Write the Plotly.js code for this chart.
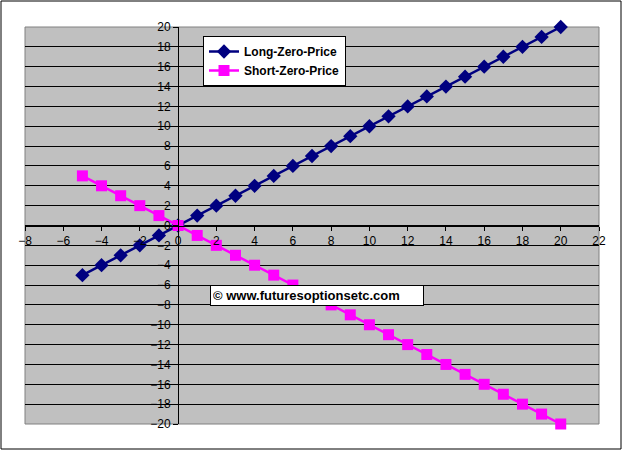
<!DOCTYPE html>
<html>
<head>
<meta charset="utf-8">
<script src="https://cdn.plot.ly/plotly-3.0.1.min.js"></script>
<style>
html,body{margin:0;padding:0;background:#fff;}
#chart{width:624px;height:453px;}
</style>
</head>
<body>
<div id="chart"></div>
<script>
const xValues = [-5,-4,-3,-2,-1,0,1,2,3,4,5,6,7,8,9,10,11,12,13,14,15,16,17,18,19,20];
const longZeroPrice = [-5,-4,-3,-2,-1,0,1,2,3,4,5,6,7,8,9,10,11,12,13,14,15,16,17,18,19,20];
const shortZeroPrice = [5,4,3,2,1,0,-1,-2,-3,-4,-5,-6,-7,-8,-9,-10,-11,-12,-13,-14,-15,-16,-17,-18,-19,-20];
const seriesNames = ['Long-Zero-Price', 'Short-Zero-Price'];
const watermark = '© www.futuresoptionsetc.com';

const W = 624, H = 453;
const m = {l:25, r:25, t:27, b:29};
const pw = W - m.l - m.r, ph = H - m.t - m.b;
const px = v => (v - m.l) / pw;
const py = v => (H - m.b - v) / ph;

const traces = [
  {
    x: xValues, y: longZeroPrice, name: seriesNames[0],
    type: 'scatter', mode: 'lines+markers', cliponaxis: false,
    line: {color: '#000080', width: 2.5},
    marker: {symbol: 'diamond', size: 11, color: '#000080'}
  },
  {
    x: xValues, y: shortZeroPrice, name: seriesNames[1],
    type: 'scatter', mode: 'lines+markers', cliponaxis: false,
    line: {color: '#FF00FF', width: 2.5},
    marker: {symbol: 'square', size: 11, color: '#FF00FF'}
  }
];

const tickFont = {family: 'Arial, Liberation Sans, sans-serif', size: 12, color: '#000'};

const layout = {
  width: W, height: H,
  margin: m,
  paper_bgcolor: '#ffffff',
  plot_bgcolor: '#C0C0C0',
  showlegend: true,
  xaxis: {
    range: [-8, 22], dtick: 2, tick0: 0,
    anchor: 'free', position: 0.5,
    showgrid: false, zeroline: false,
    showline: true, linecolor: '#000', linewidth: 1,
    ticks: 'outside', ticklen: 4, tickcolor: '#000',
    tickfont: tickFont, fixedrange: true
  },
  yaxis: {
    range: [-20, 20], dtick: 2, tick0: 0,
    anchor: 'free', position: 8/30,
    showgrid: true, gridcolor: '#000', gridwidth: 1,
    zeroline: false,
    showline: true, linecolor: '#000', linewidth: 1,
    ticks: 'outside', ticklen: 5, tickcolor: '#000',
    tickfont: tickFont, fixedrange: true
  },
  legend: {
    x: px(203), y: py(36), xanchor: 'left', yanchor: 'top',
    bgcolor: '#ffffff', bordercolor: '#000', borderwidth: 1,
    font: {family: 'Arial, Liberation Sans, sans-serif', size: 12, color: '#000', weight: 'bold'},
    tracegroupgap: 0, itemwidth: 30
  },
  shapes: [
    {type: 'rect', xref: 'paper', yref: 'paper', x0: 0, x1: 1, y0: 0, y1: 1,
     line: {color: '#808080', width: 1}, layer: 'between'},
    {type: 'rect', xref: 'paper', yref: 'paper',
     x0: px(1), x1: px(621), y0: py(449), y1: py(1),
     line: {color: '#000', width: 1}, layer: 'below'}
  ],
  annotations: [
    {xref: 'paper', yref: 'paper', x: px(210), y: py(295.5),
     xanchor: 'left', yanchor: 'middle', showarrow: false,
     text: watermark, align: 'left', width: 208, height: 15,
     bgcolor: '#ffffff', bordercolor: '#000', borderwidth: 1, borderpad: 2,
     font: {family: 'Arial, Liberation Sans, sans-serif', size: 13, color: '#000', weight: 'bold'}}
  ]
};

Plotly.newPlot('chart', traces, layout, {staticPlot: true, displayModeBar: false});
</script>
</body>
</html>
